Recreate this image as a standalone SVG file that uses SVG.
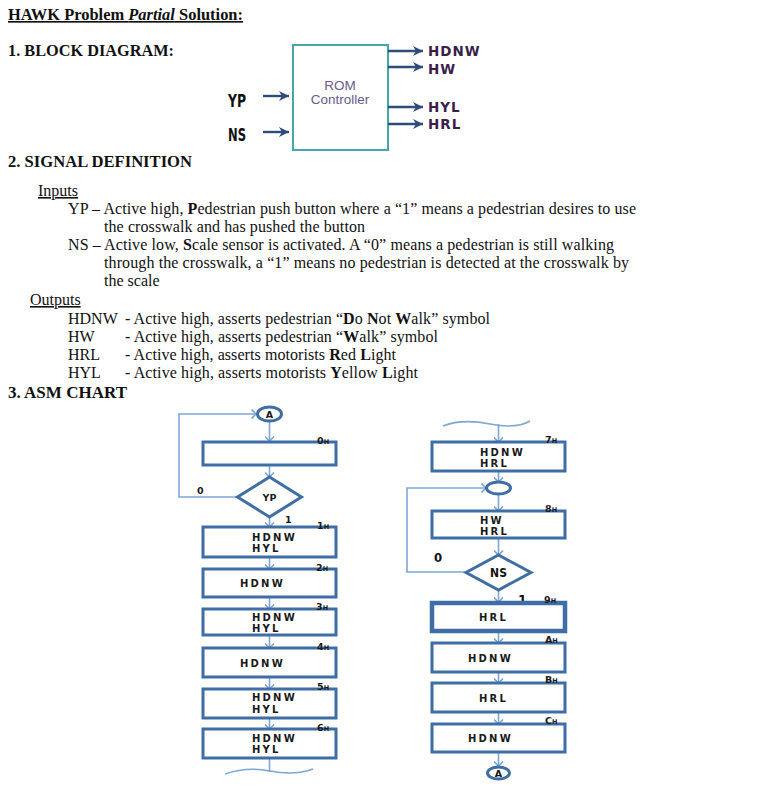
<svg xmlns="http://www.w3.org/2000/svg" width="763" height="795" viewBox="0 0 763 795">
<style>
.h{font-family:"Liberation Serif","Times New Roman",serif;font-weight:bold;font-size:16.5px;fill:#111}
.t{font-family:"Liberation Serif","Times New Roman",serif;font-size:16px;fill:#111}
.u{text-decoration:underline}
.cond{font-family:"DejaVu Sans Condensed","DejaVu Sans",sans-serif;font-weight:bold;fill:#111}
.out{font-family:"DejaVu Sans","Liberation Sans",sans-serif;font-weight:bold;font-size:13.5px;fill:#3a1f4a;letter-spacing:1px}
.rom{font-family:"Liberation Sans","DejaVu Sans",sans-serif;font-size:13.5px;fill:#6c5a8e}
.bx{fill:#fff;stroke:#3f6ea4;stroke-width:3}
.bx9{fill:#fff;stroke:#3f6ea4;stroke-width:4.5}
.dm{fill:#fff;stroke:#3f6ea4;stroke-width:3}
.bt{font-family:"DejaVu Sans","Liberation Sans",sans-serif;font-weight:bold;font-size:10px;fill:#1a1a1a;letter-spacing:2.2px}
.st{font-family:"DejaVu Sans","Liberation Sans",sans-serif;font-weight:bold;font-size:9.5px;fill:#1a1a1a}
.st tspan{font-size:6.5px}
.ar{fill:none;stroke:#7ea6d6;stroke-width:1.6}
.lp{fill:none;stroke:#7ea6d6;stroke-width:1.6}
.blk{stroke:#2d4c7c;stroke-width:2.4;fill:none}
.cc{fill:#fff;stroke:#3f6ea4;stroke-width:3}
</style>
<defs>
<marker id="chev" markerWidth="10" markerHeight="10" refX="5" refY="5" orient="auto" markerUnits="userSpaceOnUse">
<path d="M0.5,0.5 L5,5 L0.5,9.5" fill="none" stroke="#7ea6d6" stroke-width="1.6"/>
</marker>
<marker id="blkh" markerWidth="12" markerHeight="12" refX="10" refY="5" orient="auto" markerUnits="userSpaceOnUse">
<path d="M0,0 L10,5 L0,10 L3,5 Z" fill="#2d4c7c"/>
</marker>
</defs>

<!-- Headings and text -->
<g id="text">
<text class="h u" x="8" y="20" textLength="235" lengthAdjust="spacingAndGlyphs" font-size="17">HAWK Problem <tspan font-style="italic">Partial</tspan> Solution:</text>
<text class="h" x="8" y="56" textLength="166" lengthAdjust="spacingAndGlyphs">1. BLOCK DIAGRAM:</text>
<text class="h" x="8" y="167" textLength="184" lengthAdjust="spacingAndGlyphs">2.  SIGNAL DEFINITION</text>
<text class="t u" x="38" y="196">Inputs</text>
<text class="t" x="68" y="214" textLength="568" lengthAdjust="spacing">YP – Active high, <tspan font-weight="bold">P</tspan>edestrian push button where a “1” means a pedestrian desires to use</text>
<text class="t" x="104" y="232" textLength="261" lengthAdjust="spacing">the crosswalk and has pushed the button</text>
<text class="t" x="68" y="250" textLength="546" lengthAdjust="spacing">NS – Active low, <tspan font-weight="bold">S</tspan>cale sensor is activated. A “0” means a pedestrian is still walking</text>
<text class="t" x="104" y="268" textLength="525" lengthAdjust="spacing">through the crosswalk, a “1” means no pedestrian is detected  at the crosswalk by</text>
<text class="t" x="104" y="286">the scale</text>
<text class="t u" x="30" y="305">Outputs</text>
<text class="t" x="68" y="324">HDNW</text>
<text class="t" x="125" y="324" textLength="365" lengthAdjust="spacing">- Active high, asserts pedestrian “<tspan font-weight="bold">D</tspan>o <tspan font-weight="bold">N</tspan>ot <tspan font-weight="bold">W</tspan>alk” symbol</text>
<text class="t" x="68" y="342">HW</text>
<text class="t" x="125" y="342" textLength="313" lengthAdjust="spacing">- Active high, asserts pedestrian “<tspan font-weight="bold">W</tspan>alk” symbol</text>
<text class="t" x="68" y="360">HRL</text>
<text class="t" x="125" y="360" textLength="271" lengthAdjust="spacing">- Active high, asserts motorists <tspan font-weight="bold">R</tspan>ed <tspan font-weight="bold">L</tspan>ight</text>
<text class="t" x="68" y="378">HYL</text>
<text class="t" x="125" y="378" textLength="293" lengthAdjust="spacing">- Active high, asserts motorists <tspan font-weight="bold">Y</tspan>ellow <tspan font-weight="bold">L</tspan>ight</text>
<text class="h" x="8" y="398" textLength="119" lengthAdjust="spacingAndGlyphs">3.  ASM CHART</text>
</g>

<!-- Block diagram -->
<g id="rom">
<rect x="293" y="45" width="95" height="105" fill="#fff" stroke="#45a7a7" stroke-width="2"/>
<text class="rom" x="340" y="90" text-anchor="middle">ROM</text>
<text class="rom" x="340" y="104" text-anchor="middle">Controller</text>
</g>
<g id="block-io">
<text class="cond" x="228" y="107" font-size="18" textLength="18" lengthAdjust="spacingAndGlyphs">YP</text>
<text class="cond" x="228" y="141" font-size="18" textLength="18" lengthAdjust="spacingAndGlyphs">NS</text>
<text class="out" x="428" y="56">HDNW</text>
<text class="out" x="428" y="74">HW</text>
<text class="out" x="428" y="112">HYL</text>
<text class="out" x="428" y="129">HRL</text>
</g>
<g id="block-connectors">
<line class="blk" x1="263" y1="96" x2="289" y2="96" marker-end="url(#blkh)"/>
<line class="blk" x1="263" y1="132" x2="289" y2="132" marker-end="url(#blkh)"/>
<line class="blk" x1="388" y1="51" x2="423" y2="51" marker-end="url(#blkh)"/>
<line class="blk" x1="388" y1="67" x2="423" y2="67" marker-end="url(#blkh)"/>
<line class="blk" x1="388" y1="107" x2="423" y2="107" marker-end="url(#blkh)"/>
<line class="blk" x1="388" y1="124" x2="423" y2="124" marker-end="url(#blkh)"/>
</g>

<!-- ASM connectors -->
<g id="asm-connectors">
<path class="lp" d="M237,497 H179 V414 H256" marker-end="url(#chev)"/>
<line class="ar" x1="269.5" y1="421" x2="269.5" y2="441" marker-end="url(#chev)"/>
<line class="ar" x1="269.5" y1="466" x2="269.5" y2="477" marker-end="url(#chev)"/>
<line class="ar" x1="269.5" y1="517" x2="269.5" y2="527" marker-end="url(#chev)"/>
<line class="ar" x1="269.5" y1="558" x2="269.5" y2="569" marker-end="url(#chev)"/>
<line class="ar" x1="269.5" y1="598" x2="269.5" y2="609" marker-end="url(#chev)"/>
<line class="ar" x1="269.5" y1="636" x2="269.5" y2="648" marker-end="url(#chev)"/>
<line class="ar" x1="269.5" y1="678" x2="269.5" y2="689" marker-end="url(#chev)"/>
<line class="ar" x1="269.5" y1="718" x2="269.5" y2="729" marker-end="url(#chev)"/>
<line class="ar" x1="269.5" y1="759" x2="269.5" y2="772"/>
<path class="lp" d="M225,774 C240,769 255,768 270,771 S300,774 313,769"/>

<path class="lp" d="M443,426 C458,420 475,421 490,424 S520,427 530,421"/>
<line class="ar" x1="498.5" y1="424" x2="498.5" y2="442" marker-end="url(#chev)"/>
<line class="ar" x1="498.5" y1="472" x2="498.5" y2="482" marker-end="url(#chev)"/>
<line class="ar" x1="498.5" y1="494" x2="498.5" y2="511" marker-end="url(#chev)"/>
<path class="lp" d="M465,572 H407 V488 H486" marker-end="url(#chev)"/>
<line class="ar" x1="498.5" y1="539" x2="498.5" y2="555" marker-end="url(#chev)"/>
<line class="ar" x1="498.5" y1="590" x2="498.5" y2="602" marker-end="url(#chev)"/>
<line class="ar" x1="498.5" y1="633" x2="498.5" y2="643" marker-end="url(#chev)"/>
<line class="ar" x1="498.5" y1="673" x2="498.5" y2="683" marker-end="url(#chev)"/>
<line class="ar" x1="498.5" y1="713" x2="498.5" y2="724" marker-end="url(#chev)"/>
<line class="ar" x1="498.5" y1="753" x2="498.5" y2="766" marker-end="url(#chev)"/>
</g>

<!-- Left column nodes -->
<g id="connA-top">
<ellipse class="cc" cx="269.5" cy="414" rx="12" ry="7"/>
<text class="st" x="269.5" y="417.5" text-anchor="middle">A</text>
</g>
<g id="s0">
<rect class="bx" x="203" y="442" width="133" height="23"/>
<text class="st" x="317" y="444">0<tspan>H</tspan></text>
</g>
<g id="d-yp">
<polygon class="dm" points="269.5,477 301.5,497 269.5,517 237.5,497"/>
<text class="st" x="269.5" y="500.5" text-anchor="middle">YP</text>
<text class="st" x="197" y="494">0</text>
<text class="st" x="285" y="523">1</text>
</g>
<g id="s1">
<rect class="bx" x="203" y="527" width="133" height="30"/>
<text class="st" x="317" y="529">1<tspan>H</tspan></text>
<text class="bt" x="252" y="541">HDNW</text>
<text class="bt" x="252" y="552">HYL</text>
</g>
<g id="s2">
<rect class="bx" x="203" y="569" width="133" height="28"/>
<text class="st" x="316" y="571">2<tspan>H</tspan></text>
<text class="bt" x="240" y="587">HDNW</text>
</g>
<g id="s3">
<rect class="bx" x="203" y="609" width="133" height="26"/>
<text class="st" x="316" y="610">3<tspan>H</tspan></text>
<text class="bt" x="252" y="621">HDNW</text>
<text class="bt" x="252" y="632">HYL</text>
</g>
<g id="s4">
<rect class="bx" x="203" y="648" width="133" height="29"/>
<text class="st" x="317" y="650">4<tspan>H</tspan></text>
<text class="bt" x="240" y="667">HDNW</text>
</g>
<g id="s5">
<rect class="bx" x="203" y="689" width="133" height="29"/>
<text class="st" x="317" y="690">5<tspan>H</tspan></text>
<text class="bt" x="252" y="701">HDNW</text>
<text class="bt" x="252" y="713">HYL</text>
</g>
<g id="s6">
<rect class="bx" x="203" y="729" width="133" height="29"/>
<text class="st" x="317" y="731">6<tspan>H</tspan></text>
<text class="bt" x="252" y="742">HDNW</text>
<text class="bt" x="252" y="753">HYL</text>
</g>

<!-- Right column nodes -->
<g id="s7">
<rect class="bx" x="432" y="442" width="133" height="29"/>
<text class="st" x="545" y="443">7<tspan>H</tspan></text>
<text class="bt" x="480" y="456">HDNW</text>
<text class="bt" x="480" y="467">HRL</text>
</g>
<g id="junction">
<ellipse class="cc" cx="498.5" cy="488" rx="12" ry="6"/>
</g>
<g id="s8">
<rect class="bx" x="432" y="511" width="133" height="27"/>
<text class="st" x="545" y="512">8<tspan>H</tspan></text>
<text class="bt" x="480" y="524">HW</text>
<text class="bt" x="480" y="535">HRL</text>
</g>
<g id="d-ns">
<polygon class="dm" points="498.5,555 531,572.5 498.5,590 466,572.5"/>
<text class="cond" x="498.5" y="577" font-size="12" text-anchor="middle">NS</text>
<text class="cond" x="434" y="562" font-size="13">0</text>
<text class="cond" x="518" y="605" font-size="14">1</text>
</g>
<g id="s9">
<rect class="bx9" x="432" y="603" width="133" height="28"/>
<text class="st" x="544" y="603">9<tspan>H</tspan></text>
<text class="bt" x="479" y="621">HRL</text>
</g>
<g id="sA">
<rect class="bx" x="432" y="643" width="133" height="29"/>
<text class="st" x="545" y="643">A<tspan>H</tspan></text>
<text class="bt" x="468" y="662">HDNW</text>
</g>
<g id="sB">
<rect class="bx" x="432" y="683" width="133" height="29"/>
<text class="st" x="545" y="683" font-size="7">B<tspan>H</tspan></text>
<text class="bt" x="479" y="702">HRL</text>
</g>
<g id="sC">
<rect class="bx" x="432" y="724" width="133" height="28"/>
<text class="st" x="545" y="724">C<tspan>H</tspan></text>
<text class="bt" x="468" y="742">HDNW</text>
</g>
<g id="connA-bottom">
<ellipse class="cc" cx="498.5" cy="773" rx="11" ry="6"/>
<text class="st" x="498.5" y="776.5" text-anchor="middle" font-size="8.5">A</text>
</g>
</svg>
